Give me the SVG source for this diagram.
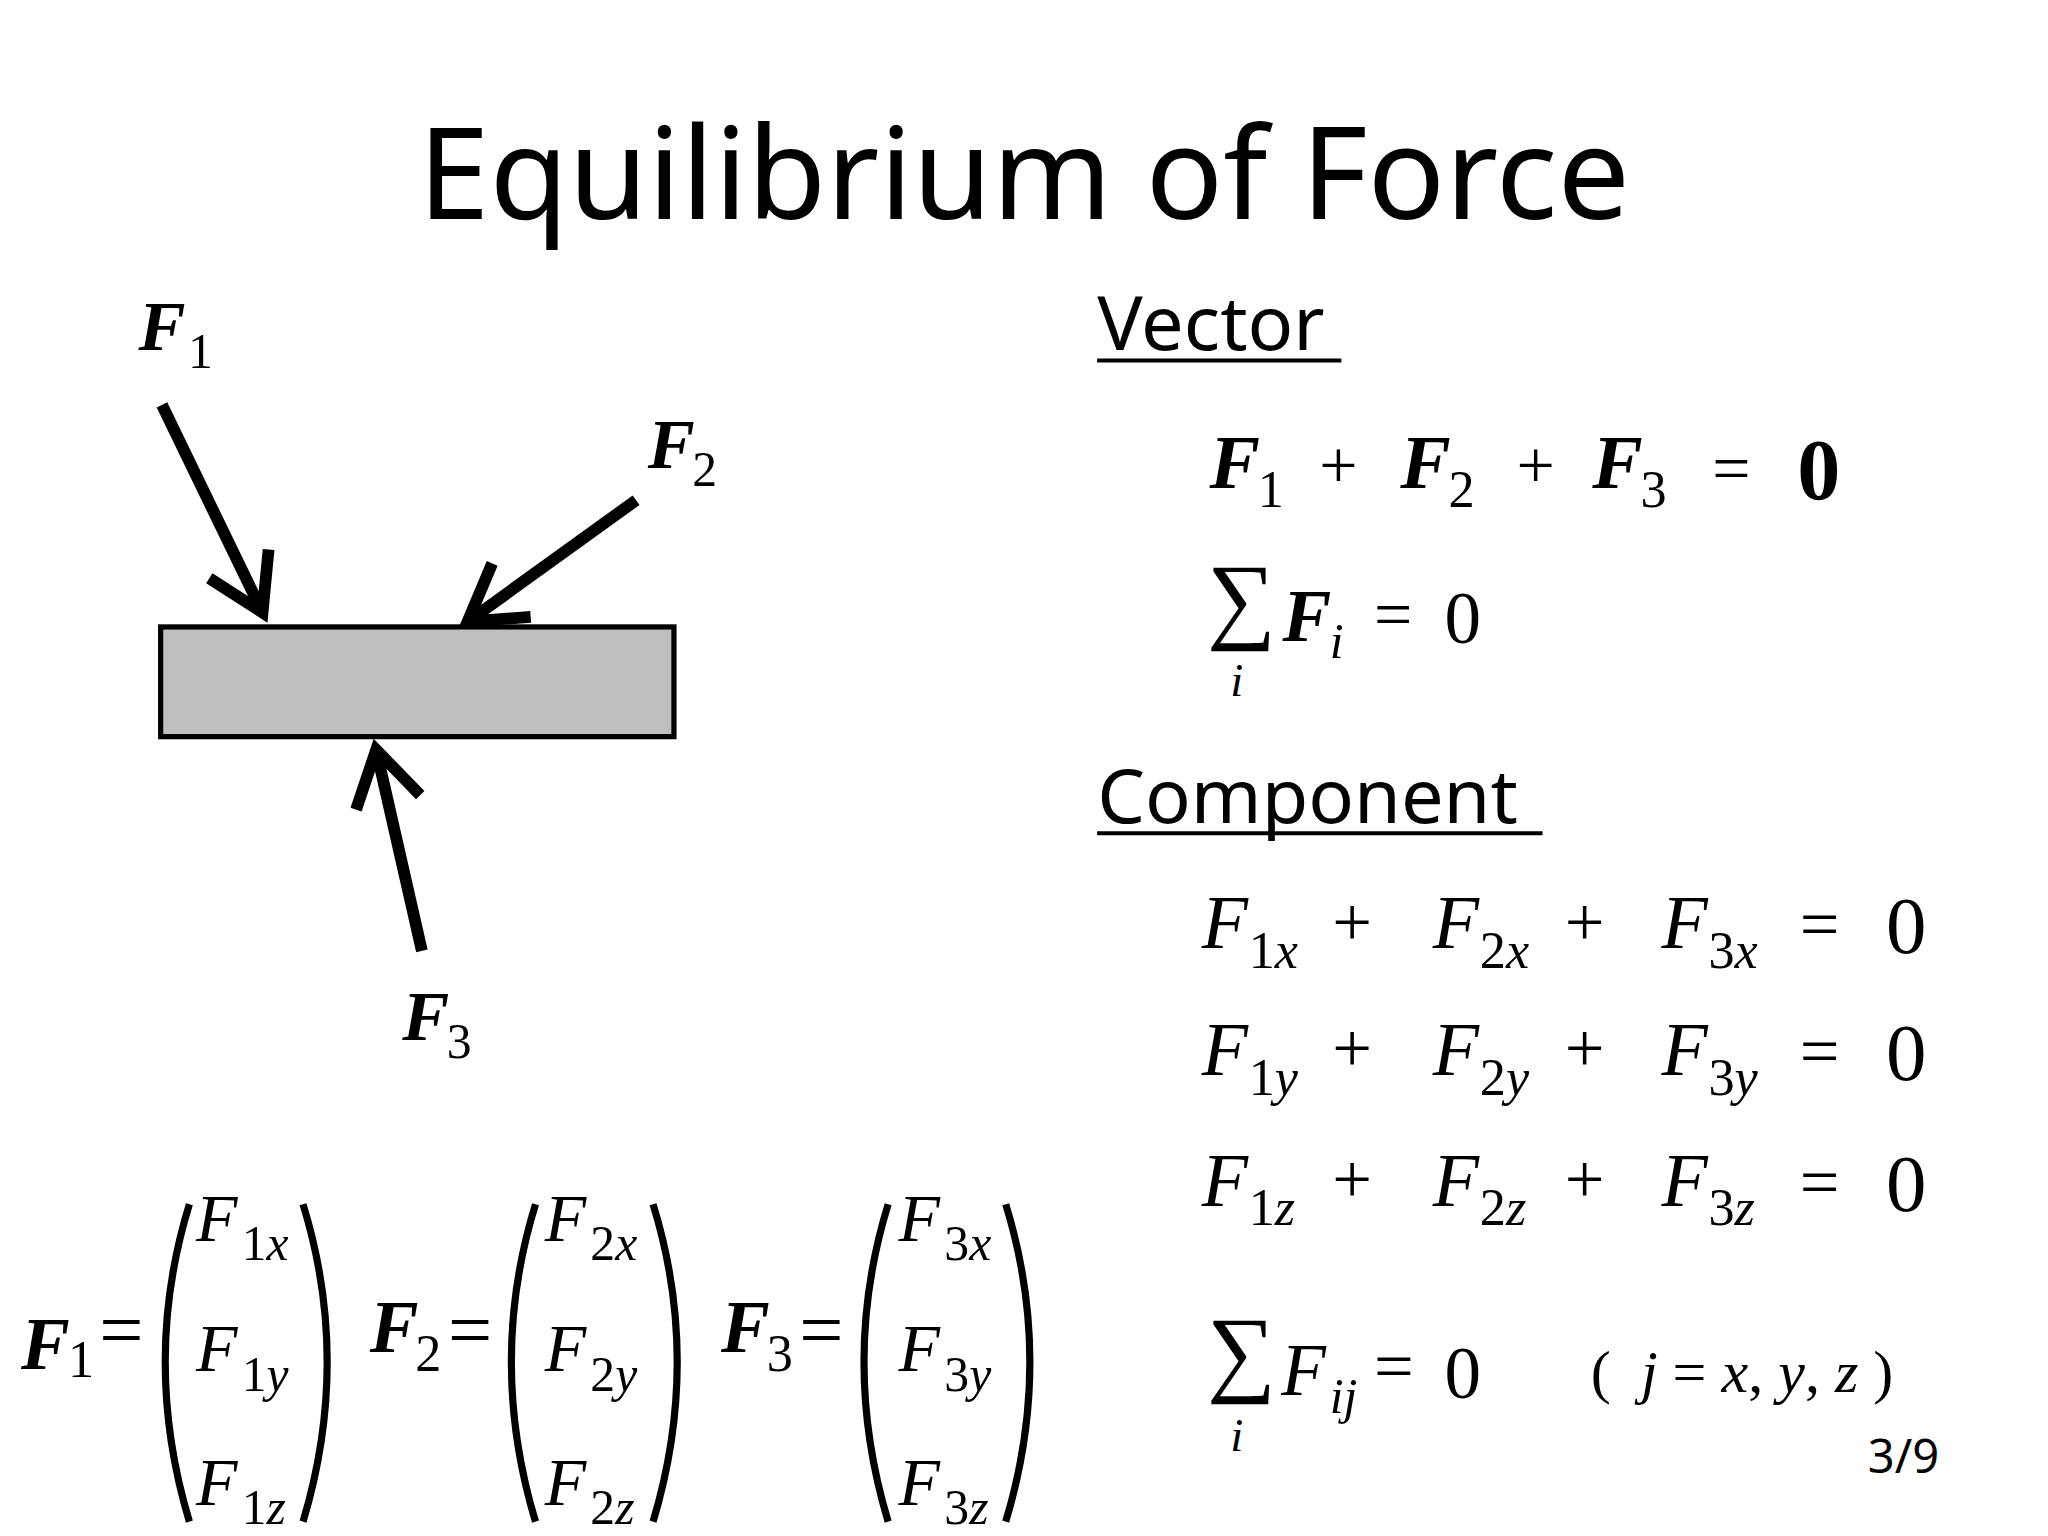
<svg xmlns="http://www.w3.org/2000/svg" width="2048" height="1536" viewBox="0 0 2048 1536">
<defs>
<style>
.s{font-family:"Liberation Serif",serif;fill:#000}
.bi{font-style:italic;font-weight:bold}
.it{font-style:italic}
.sans{font-family:"Noto Sans","DejaVu Sans",sans-serif;fill:#000}
.ar{stroke:#000;stroke-width:9;fill:none}
.pr{stroke:#000;stroke-width:5.5;fill:none}
</style>
<marker id="ch" markerUnits="strokeWidth" viewBox="-7 -5 9 10" refX="0" refY="0" markerWidth="9" markerHeight="10" orient="auto" overflow="visible">
<path d="M-4.6,-2.8 L0,0 L-4.6,2.8" fill="none" stroke="#000" stroke-width="1"/>
</marker>
</defs>
<rect width="2048" height="1536" fill="#fff"/>
<g transform="scale(1.30612)">
<text class="sans" x="320" y="168" font-size="98" textLength="928" lengthAdjust="spacingAndGlyphs">Equilibrium of Force</text>
<g id="beam"><rect x="123" y="480" width="393" height="84" fill="#bfbfbf" stroke="#000" stroke-width="4"/></g>
<g id="connectors">
<line class="ar" x1="124" y1="310" x2="201" y2="469" marker-end="url(#ch)"/>
<line class="ar" x1="487" y1="383" x2="358" y2="476" marker-end="url(#ch)"/>
<line class="ar" x1="323" y1="728" x2="288" y2="574" marker-end="url(#ch)"/>
</g>
<g id="labels">
<text class="s bi" x="106" y="268" font-size="54">F</text><text class="s" x="144" y="282" font-size="38">1</text>
<text class="s bi" x="496" y="358" font-size="54">F</text><text class="s" x="530" y="372" font-size="38">2</text>
<text class="s bi" x="308" y="796" font-size="54">F</text><text class="s" x="342" y="810" font-size="38">3</text>
</g>
<g id="vector">
<text class="sans" x="840" y="268" font-size="58">Vector</text>
<line x1="840" y1="276" x2="1027" y2="276" stroke="#000" stroke-width="3"/>
<text class="s bi" x="926" y="374" font-size="58">F</text><text class="s" x="963" y="388" font-size="40">1</text>
<text class="s" x="1010" y="374" font-size="52">+</text>
<text class="s bi" x="1072" y="374" font-size="58">F</text><text class="s" x="1109" y="388" font-size="40">2</text>
<text class="s" x="1161" y="374" font-size="52">+</text>
<text class="s bi" x="1219" y="374" font-size="58">F</text><text class="s" x="1256" y="388" font-size="40">3</text>
<text class="s" x="1311" y="376" font-size="52">=</text>
<text class="s" x="1376" y="382" font-size="66" font-weight="bold">0</text>
<text class="s" x="924" y="483" font-size="74">∑</text><text class="s it" x="942" y="533" font-size="36">i</text>
<text class="s bi" x="982" y="491" font-size="56">F</text><text class="s it" x="1018" y="504" font-size="38">i</text>
<text class="s" x="1052" y="488" font-size="52">=</text><text class="s" x="1106" y="492" font-size="56">0</text>
</g>
<g id="component">
<text class="sans" x="840" y="630" font-size="58">Component</text>
<line x1="840" y1="638" x2="1181" y2="638" stroke="#000" stroke-width="3"/>
<g font-size="58">
<text class="s it" x="920" y="726">F</text><text class="s" x="956" y="741" font-size="40">1<tspan class="it">x</tspan></text>
<text class="s" x="1020" y="724" font-size="54">+</text>
<text class="s it" x="1097" y="726">F</text><text class="s" x="1133" y="741" font-size="40">2<tspan class="it">x</tspan></text>
<text class="s" x="1198" y="724" font-size="54">+</text>
<text class="s it" x="1272" y="726">F</text><text class="s" x="1308" y="741" font-size="40">3<tspan class="it">x</tspan></text>
<text class="s" x="1378" y="726" font-size="54">=</text><text class="s" x="1444" y="730" font-size="62">0</text>
<text class="s it" x="920" y="823">F</text><text class="s" x="956" y="838" font-size="40">1<tspan class="it">y</tspan></text>
<text class="s" x="1020" y="821" font-size="54">+</text>
<text class="s it" x="1097" y="823">F</text><text class="s" x="1133" y="838" font-size="40">2<tspan class="it">y</tspan></text>
<text class="s" x="1198" y="821" font-size="54">+</text>
<text class="s it" x="1272" y="823">F</text><text class="s" x="1308" y="838" font-size="40">3<tspan class="it">y</tspan></text>
<text class="s" x="1378" y="823" font-size="54">=</text><text class="s" x="1444" y="827" font-size="62">0</text>
<text class="s it" x="920" y="923">F</text><text class="s" x="956" y="938" font-size="40">1<tspan class="it">z</tspan></text>
<text class="s" x="1020" y="921" font-size="54">+</text>
<text class="s it" x="1097" y="923">F</text><text class="s" x="1133" y="938" font-size="40">2<tspan class="it">z</tspan></text>
<text class="s" x="1198" y="921" font-size="54">+</text>
<text class="s it" x="1272" y="923">F</text><text class="s" x="1308" y="938" font-size="40">3<tspan class="it">z</tspan></text>
<text class="s" x="1378" y="923" font-size="54">=</text><text class="s" x="1444" y="927" font-size="62">0</text>
</g>
<text class="s" x="924" y="1060" font-size="74">∑</text><text class="s it" x="942" y="1111" font-size="36">i</text>
<text class="s it" x="981" y="1068" font-size="56">F</text><text class="s it" x="1018" y="1082" font-size="38">ij</text>
<text class="s" x="1052" y="1064" font-size="54">=</text><text class="s" x="1106" y="1070" font-size="56">0</text>
<text class="s" x="1218" y="1066" font-size="46" xml:space="preserve">(  <tspan class="it">j</tspan> = <tspan class="it">x</tspan>, <tspan class="it">y</tspan>, <tspan class="it">z</tspan> )</text>
</g>
<text class="sans" x="1430" y="1128" font-size="36">3/9</text>
<g id="matrices">
<text class="s bi" x="16" y="1048" font-size="56">F</text><text class="s" x="52" y="1054" font-size="40">1</text><text class="s" x="76" y="1038" font-size="60">=</text>
<path class="pr" d="M145,922 Q108,1042 145,1165"/><path class="pr" d="M232,922 Q269,1042 232,1165"/>
<text class="s it" x="150" y="950" font-size="52">F</text><text class="s" x="185" y="965" font-size="38">1<tspan class="it">x</tspan></text>
<text class="s it" x="150" y="1050" font-size="52">F</text><text class="s" x="185" y="1065" font-size="38">1<tspan class="it">y</tspan></text>
<text class="s it" x="150" y="1152" font-size="52">F</text><text class="s" x="185" y="1167" font-size="38">1<tspan class="it">z</tspan></text>
<text class="s bi" x="283" y="1035" font-size="56">F</text><text class="s" x="318" y="1050" font-size="40">2</text><text class="s" x="343" y="1038" font-size="60">=</text>
<path class="pr" d="M410,922 Q373,1042 410,1165"/><path class="pr" d="M500,922 Q537,1042 500,1165"/>
<text class="s it" x="417" y="950" font-size="52">F</text><text class="s" x="452" y="965" font-size="38">2<tspan class="it">x</tspan></text>
<text class="s it" x="417" y="1050" font-size="52">F</text><text class="s" x="452" y="1065" font-size="38">2<tspan class="it">y</tspan></text>
<text class="s it" x="417" y="1152" font-size="52">F</text><text class="s" x="452" y="1167" font-size="38">2<tspan class="it">z</tspan></text>
<text class="s bi" x="552" y="1035" font-size="56">F</text><text class="s" x="587" y="1050" font-size="40">3</text><text class="s" x="612" y="1038" font-size="60">=</text>
<path class="pr" d="M680,922 Q643,1042 680,1165"/><path class="pr" d="M770,922 Q807,1042 770,1165"/>
<text class="s it" x="688" y="950" font-size="52">F</text><text class="s" x="723" y="965" font-size="38">3<tspan class="it">x</tspan></text>
<text class="s it" x="688" y="1050" font-size="52">F</text><text class="s" x="723" y="1065" font-size="38">3<tspan class="it">y</tspan></text>
<text class="s it" x="688" y="1152" font-size="52">F</text><text class="s" x="723" y="1167" font-size="38">3<tspan class="it">z</tspan></text>
</g>
</g>
</svg>
